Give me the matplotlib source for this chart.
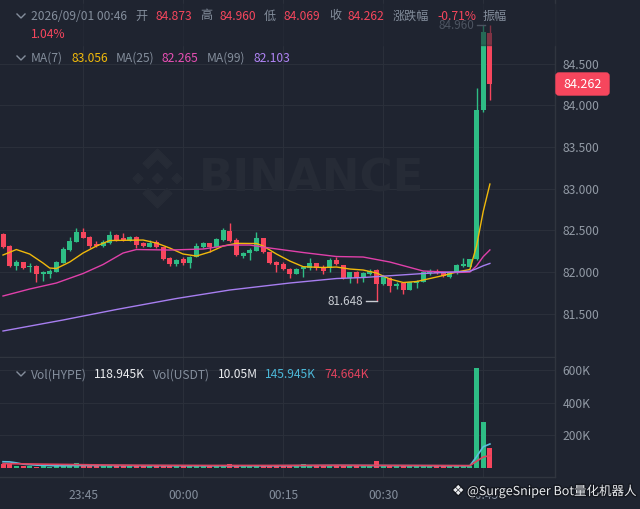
import matplotlib
matplotlib.use("Agg")
import matplotlib.pyplot as plt
import matplotlib.patheffects as pe
from matplotlib.patches import Rectangle, FancyBboxPatch, Polygon
from matplotlib.lines import Line2D
from matplotlib.transforms import IdentityTransform

plt.rcParams['font.family'] = ['Noto Sans CJK SC', 'DejaVu Sans']

# 1-minute candles, 23:33 .. 00:46
opens = [82.456, 82.31, 82.076, 82.116, 82.056, 82.072, 81.976, 81.972, 82.004, 82.112,
         82.26, 82.364, 82.476, 82.42, 82.34, 82.316, 82.344, 82.444, 82.404, 82.376,
         82.424, 82.344, 82.304, 82.364, 82.296, 82.172, 82.092, 82.152, 82.104, 82.184,
         82.296, 82.344, 82.304, 82.384, 82.496, 82.384, 82.196, 82.224, 82.256, 82.404,
         82.236, 82.116, 82.096, 82.036, 81.976, 82.032, 82.052, 82.104, 82.064, 82.044,
         82.144, 82.08, 81.932, 81.996, 81.932, 81.972, 82.024, 81.856, 81.932, 81.836,
         81.864, 81.784, 81.864, 81.884, 81.984, 82.012, 81.996, 81.944, 81.984, 82.072,
         82.064, 82.16, 83.94, 84.873]
highs = [82.47, 82.32, 82.144, 82.12, 82.104, 82.08, 82.012, 82.036, 82.136, 82.296,
         82.416, 82.524, 82.524, 82.43, 82.372, 82.384, 82.492, 82.46, 82.472, 82.43,
         82.43, 82.356, 82.384, 82.384, 82.304, 82.184, 82.156, 82.184, 82.192, 82.344,
         82.364, 82.348, 82.408, 82.524, 82.584, 82.404, 82.24, 82.284, 82.476, 82.412,
         82.24, 82.136, 82.116, 82.044, 82.044, 82.064, 82.164, 82.112, 82.084, 82.164,
         82.184, 82.09, 82.004, 82.012, 82.0, 82.032, 82.032, 81.964, 81.944, 81.884,
         81.872, 81.884, 81.904, 82.012, 82.032, 82.036, 82.004, 81.992, 82.092, 82.164,
         82.156, 84.21, 84.96, 84.96]
lows = [82.29, 82.06, 82.03, 82.036, 81.996, 81.884, 81.89, 81.924, 81.996, 82.104,
        82.252, 82.356, 82.404, 82.284, 82.304, 82.304, 82.336, 82.372, 82.372, 82.372,
        82.284, 82.304, 82.296, 82.284, 82.144, 82.076, 82.076, 82.084, 82.044, 82.18,
        82.284, 82.236, 82.296, 82.376, 82.364, 82.196, 82.164, 82.144, 82.252, 82.224,
        82.092, 82.004, 82.024, 81.932, 81.972, 81.944, 82.024, 82.024, 81.976, 82.004,
        82.084, 81.916, 81.872, 81.864, 81.876, 81.964, 81.648, 81.844, 81.764, 81.796,
        81.736, 81.78, 81.804, 81.88, 81.964, 81.972, 81.944, 81.924, 81.976, 82.064,
        82.06, 82.14, 83.92, 84.069]
closes = [82.30, 82.076, 82.124, 82.044, 82.076, 81.972, 81.996, 82.012, 82.124, 82.272,
          82.376, 82.476, 82.412, 82.316, 82.316, 82.364, 82.444, 82.384, 82.376, 82.424,
          82.324, 82.312, 82.344, 82.296, 82.152, 82.092, 82.144, 82.104, 82.184, 82.316,
          82.344, 82.296, 82.396, 82.504, 82.372, 82.204, 82.232, 82.264, 82.404, 82.236,
          82.104, 82.084, 82.032, 81.972, 82.036, 82.056, 82.104, 82.052, 82.016, 82.144,
          82.096, 81.93, 81.996, 81.932, 81.984, 82.012, 81.856, 81.944, 81.836, 81.856,
          81.784, 81.876, 81.892, 82.004, 82.016, 81.984, 81.952, 81.984, 82.084, 82.096,
          82.152, 83.945, 84.88, 84.262]
volumes = [20, 20, 12, 12, 12, 7, 8, 6, 10, 12,
           14, 31, 16, 12, 10, 11, 13, 9, 10, 12,
           11, 13, 9, 10, 12, 8, 10, 12, 9, 14,
           11, 10, 9, 12, 22, 12, 9, 10, 13, 11,
           10, 12, 9, 11, 10, 22, 18, 9, 10, 12,
           9, 12, 10, 11, 9, 10, 41, 12, 10, 9,
           11, 10, 9, 12, 10, 9, 10, 11, 12, 10,
           11, 615, 283, 118.945]

# moving averages (candle index, value)
ma7_idx = [0, 2, 4, 6, 7, 8, 10, 12, 14, 16, 21, 23, 25, 27, 29, 31, 33, 35, 38, 39,
           41, 43, 45, 48, 50, 52, 54, 56, 58, 60, 62, 64, 66, 68, 70, 71, 72, 73]
ma7_val = [82.204, 82.27, 82.216, 82.108, 82.048, 82.042, 82.12, 82.228, 82.312, 82.378,
           82.384, 82.348, 82.288, 82.216, 82.192, 82.24, 82.312, 82.344, 82.342, 82.312,
           82.216, 82.132, 82.064, 82.054, 82.06, 82.036, 82.024, 81.988, 81.916, 81.874,
           81.886, 81.922, 81.958, 82.0, 82.03, 82.314, 82.728, 83.056]
ma25_idx = [0, 4, 8, 12, 15, 18, 20, 25, 30, 34, 37, 40, 45, 50, 54, 58, 63, 68, 70, 71, 72, 73]
ma25_val = [81.712, 81.796, 81.868, 81.982, 82.09, 82.228, 82.27, 82.264, 82.276, 82.324,
            82.324, 82.288, 82.234, 82.186, 82.18, 82.12, 82.012, 81.994, 82.0, 82.074,
            82.185, 82.265]
ma99_idx = [0, 9, 17, 26, 34, 43, 50, 54, 63, 70, 71, 72, 73]
ma99_val = [81.292, 81.424, 81.55, 81.682, 81.784, 81.868, 81.922, 81.934, 81.982, 82.01,
            82.04, 82.075, 82.103]
vma_s_idx = [0, 1, 2, 3, 5, 8, 12, 20, 30, 40, 50, 60, 70, 71, 72, 73]
vma_s_val = [37, 36, 30, 22, 16, 12, 14, 13, 12, 12, 14, 13, 12, 68, 129, 145.945]
vma_l_idx = [0, 3, 6, 10, 15, 20, 30, 40, 50, 60, 70, 71, 72, 73]
vma_l_val = [25, 24, 22, 20, 17, 15, 14, 14, 15, 14, 13, 40, 66, 74.664]

time_ticks = [12, 27, 42, 57, 72]
time_labels = ['23:45', '00:00', '00:15', '00:30', '00:45']
price_ticks = [81.5, 82.0, 82.5, 83.0, 83.5, 84.0, 84.5]
vol_ticks = [200, 400, 600]

W, H = 640, 509
BG = '#1f2430'
GRID = '#2a2f3a'
SPINE = '#30353f'
UP = '#2ebd85'
DOWN = '#f6465d'
GREY = '#848e9c'
AXT = '#929aa5'
FS = 8.7


def P(x, y):
    # pixel from top-left -> display coords
    return (x, H - y)


fig = plt.figure(figsize=(6.4, 5.09), dpi=100, facecolor=BG)
ax = fig.add_axes([0, 1 - 357 / H, 555 / W, 357 / H], facecolor=BG)
vax = fig.add_axes([0, 1 - 477 / H, 555 / W, 119 / H], facecolor=BG)

idx = list(range(len(closes)))
cols = [UP if c >= o else DOWN for o, c in zip(opens, closes)]
bottoms = [min(o, c) for o, c in zip(opens, closes)]
heights = [max(abs(c - o), 0.012) for o, c in zip(opens, closes)]

ax.vlines(idx, lows, highs, colors=cols, lw=1, zorder=3)
ax.bar(idx, heights, bottom=bottoms, width=0.75, color=cols, zorder=4)
ax.plot(ma7_idx, ma7_val, color='#f0b90b', lw=1, zorder=5)
ax.plot(ma25_idx, ma25_val, color='#e040aa', lw=1, zorder=5)
ax.plot(ma99_idx, ma99_val, color='#a77ef0', lw=1, zorder=5)

ax.set_xlim(-0.45, 82.76)
ax.set_ylim(80.98, 85.265)
ax.set_xticks(time_ticks)
ax.set_yticks(price_ticks)
ax.set_yticklabels(['%.3f' % v for v in price_ticks])
ax.yaxis.tick_right()
ax.tick_params(axis='y', length=0, pad=5.5, labelsize=FS, labelcolor=AXT)
ax.tick_params(axis='x', length=0, labelbottom=False)
ax.grid(color=GRID, lw=0.8)
ax.set_axisbelow(True)

# high / low markers
hi = highs.index(max(highs[:73]))
lo = lows.index(min(lows))
ax.plot([hi - 1.0, hi + 0.2], [highs[hi], highs[hi]], color=GREY, lw=1, zorder=6)
ax.text(hi - 1.4, highs[hi], '%.3f' % highs[hi], color=GREY, fontsize=FS - 0.3,
        ha='right', va='center', zorder=6)
ax.plot([lo - 1.6, lo + 0.1], [lows[lo], lows[lo]], color='#c8ccd2', lw=1, zorder=6)
ax.text(lo - 2.0, lows[lo], '%.3f' % lows[lo], color='#c8ccd2', fontsize=FS - 0.3,
        ha='right', va='center', zorder=6)

# volume panel
vax.bar(idx, volumes, width=0.75, color=cols, zorder=3)
vax.plot(vma_s_idx, vma_s_val, color='#5bbfdc', lw=1.2, zorder=4)
vax.plot(vma_l_idx, vma_l_val, color='#e0435e', lw=1.2, zorder=4)
vax.set_xlim(-0.45, 82.76)
vax.set_ylim(-57, 675)
vax.set_yticks(vol_ticks)
vax.set_yticklabels(['%dK' % v for v in vol_ticks])
vax.yaxis.tick_right()
vax.set_xticks(time_ticks)
vax.set_xticklabels(time_labels)
vax.tick_params(axis='y', length=0, pad=5.5, labelsize=FS, labelcolor=AXT)
vax.tick_params(axis='x', length=0, pad=8.5, labelsize=FS, labelcolor=GREY)
vax.grid(color=GRID, lw=0.8)
vax.set_axisbelow(True)

for a in (ax, vax):
    for s in ('top', 'left'):
        a.spines[s].set_visible(False)
    for s in ('bottom', 'right'):
        a.spines[s].set_color(SPINE)
        a.spines[s].set_linewidth(1)

T = IdentityTransform()

# BINANCE watermark
WM = '#262b36'
cx, cy, r = 157.5, 178.5, 29.5
shapes = [
    [(0, 0.17), (0.17, 0), (0, -0.17), (-0.17, 0)],
    [(-0.66, 0.17), (-0.49, 0), (-0.66, -0.17), (-0.83, 0)],
    [(0.66, 0.17), (0.83, 0), (0.66, -0.17), (0.49, 0)],
    [(0, 1), (0.49, 0.51), (0.32, 0.34), (0, 0.66), (-0.32, 0.34), (-0.49, 0.51)],
    [(0, -1), (0.49, -0.51), (0.32, -0.34), (0, -0.66), (-0.32, -0.34), (-0.49, -0.51)],
]
for sh in shapes:
    pts = [P(cx + u * r, cy - v * r) for u, v in sh]
    fig.add_artist(Polygon(pts, closed=True, color=WM, transform=T, zorder=0.5))
fig.text(*P(199, 179), 'BINANCE', family='DejaVu Sans', fontweight='bold',
         fontsize=32.5, color=WM, ha='left', va='center', transform=T, zorder=0.5)

# translucent header block
fig.add_artist(Rectangle(P(0, 45), 555, 41, color=BG, alpha=0.55, transform=T, zorder=2))


def chevron(x, y):
    fig.add_artist(Line2D([x, x + 4, x + 8], [H - y + 2, H - y - 2, H - y + 2],
                          color=GREY, lw=1, transform=T, zorder=3))


def txt(x, y, s, c=GREY, **kw):
    fig.text(*P(x, y), s, color=c, fontsize=FS, ha='left', va='center',
             transform=T, zorder=3, **kw)


chevron(17, 16)
header = [(31, '2026/09/01 00:46', GREY), (135, '开', GREY), (155, '84.873', DOWN),
          (200, '高', GREY), (219, '84.960', DOWN), (264, '低', GREY),
          (283, '84.069', DOWN), (329, '收', GREY), (348, '84.262', DOWN),
          (393, '涨跌幅', GREY), (437, '-0.71%', DOWN), (483, '振幅', GREY)]
for x, s, c in header:
    txt(x, 16, s, c)
txt(31, 34, '1.04%', DOWN)

chevron(17, 58)
for x, s, c in [(31, 'MA(7)', GREY), (71, '83.056', '#f0b90b'), (116, 'MA(25)', GREY),
                (162, '82.265', '#e84fb4'), (207, 'MA(99)', GREY), (253, '82.103', '#b084f5')]:
    txt(x, 58, s, c)

chevron(17, 374)
for x, s, c in [(31, 'Vol(HYPE)', GREY), (94, '118.945K', '#eaecef'),
                (153, 'Vol(USDT)', GREY), (218, '10.05M', '#eaecef'),
                (265, '145.945K', '#4cb8d8'), (324, '74.664K', '#e0435e')]:
    txt(x, 375, s, c)

# current price tag
fig.add_artist(FancyBboxPatch(P(556, 95), 53, 22, boxstyle='round,pad=0,rounding_size=3',
                              color=DOWN, transform=T, zorder=3))
fig.text(*P(582.5, 84), '%.3f' % closes[-1], color='white', fontsize=FS + 0.3,
         ha='center', va='center', transform=T, zorder=4)

# bottom-right watermark
shadow = [pe.withStroke(linewidth=2, foreground='#151820')]
fig.text(*P(452, 491), '❖', family='DejaVu Sans', color='#eaecef', fontsize=10,
         ha='left', va='center', transform=T, zorder=4, path_effects=shadow)
fig.text(*P(467, 491), '@SurgeSniper Bot量化机器人', color='#eaecef', fontsize=9,
         ha='left', va='center', transform=T, zorder=4, path_effects=shadow)

fig.savefig('out.png', dpi=100, facecolor=BG)
